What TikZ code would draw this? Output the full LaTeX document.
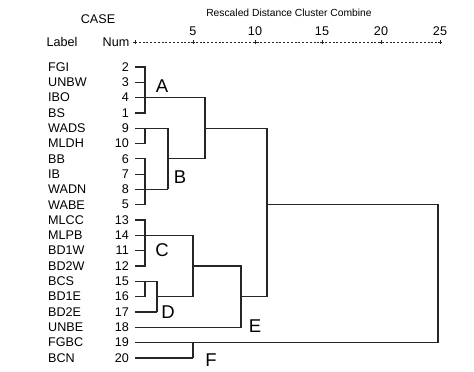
\documentclass[tikz,border=0pt]{standalone}
\usepackage{fontspec}
\setmainfont{Liberation Sans}
\begin{document}
\begin{tikzpicture}[x=1pt,y=-1pt,
	case/.style={anchor=west,inner sep=0pt,font=\fontsize{12.6}{14}\selectfont},
	num/.style={anchor=east,inner sep=0pt,font=\fontsize{12.6}{14}\selectfont},
	head/.style={inner sep=0pt,font=\fontsize{12.6}{14}\selectfont},
	group/.style={inner sep=0pt,font=\fontsize{18.5}{20}\selectfont},
	tree/.style={draw=black!85,line width=1.2pt},
	fat/.style={draw=black!85,line width=2pt}]
	\useasboundingbox (0,0) rectangle (474,372);
	
	% header
	\node[head] (case) at (98, 19) {CASE};
	\node[head] (label) at (62, 42) {Label};
	\node[head] (numh) at (116, 42) {Num};
	\node[inner sep=0pt,font=\fontsize{10.3}{12}\selectfont] (title) at (289, 13) {Rescaled Distance Cluster Combine};
	\coordinate (ax0) at (135, 42);
	\coordinate (ax25) at (440, 42);
	\draw[black!85, line width=0.7pt, dash pattern=on 2pt off 1.8pt] (ax0) -- (ax25);
	\draw[black!85, line width=0.9pt] (ax0) ++(-2,0) -- ++(4,0) (ax0) ++(0,-2) -- ++(0,4);
	\foreach \t/\x in {5/193, 10/255, 15/322, 20/381, 25/440} {
		\node[head] (tick-\t) at (\x, 31) {\t};
		\draw[black!85, line width=0.9pt] (\x-2, 42) -- (\x+2, 42) (\x, 40) -- (\x, 44);
	}
	
	% cases
	\foreach \i/\lab/\num in {1/FGI/2, 2/UNBW/3, 3/IBO/4, 4/BS/1, 5/WADS/9, 6/MLDH/10,
		7/BB/6, 8/IB/7, 9/WADN/8, 10/WABE/5, 11/MLCC/13, 12/MLPB/14, 13/BD1W/11,
		14/BD2W/12, 15/BCS/15, 16/BD1E/16, 17/BD2E/17, 18/UNBE/18, 19/FGBC/19, 20/BCN/20} {
		\node[case] (lab-\i) at (48, {67+(\i-1)*15.3}) {\lab};
		\node[num] (num-\i) at (129, {67+(\i-1)*15.3}) {\num};
		\coordinate (r-\i) at (135, {67+(\i-1)*15.3});
	}
	
	% merge levels
	\coordinate (xa) at (145, 0);
	\coordinate (xd) at (157, 0);
	\coordinate (xb) at (168, 0);
	\coordinate (xc) at (193, 0);
	\coordinate (xab) at (205, 0);
	\coordinate (xe) at (241, 0);
	\coordinate (xall) at (267, 0);
	\coordinate (xtop) at (438, 0);
	
	% A
	\draw[tree] (r-1) -- (r-1 -| xa) -- (r-4 -| xa) -- (r-4);
	\draw[tree] (r-2) -- (r-2 -| xa);
	\draw[tree] (r-3) -- (r-3 -| xab) -- (r-7 -| xab);
	% B
	\draw[tree] (r-5) -- (r-5 -| xb) -- (r-9 -| xb);
	\draw[tree] (r-5 -| xa) -- (r-6 -| xa) -- (r-6);
	\draw[tree] (r-7) -- (r-7 -| xa) -- (r-10 -| xa) -- (r-10);
	\draw[tree] (r-8) -- (r-8 -| xa);
	\draw[tree] (r-9) -- (r-9 -| xb);
	\draw[tree] (r-7 -| xb) -- (r-7 -| xab);
	\draw[tree] (r-5 -| xab) -- (r-5 -| xall);
	% C
	\draw[tree] (r-11) -- (r-11 -| xa) -- (r-14 -| xa) -- (r-14);
	\draw[tree] (r-12) -- (r-12 -| xc) -- (r-16 -| xc);
	\draw[tree] (r-13) -- (r-13 -| xa);
	% D
	\draw[tree] (r-15) -- (r-15 -| xd) -- (r-17 -| xd);
	\draw[tree] (r-15 -| xa) -- (r-16 -| xa) -- (r-16);
	\draw[fat] (r-17) -- (r-17 -| xd);
	\draw[tree] (r-16 -| xd) -- (r-16 -| xc);
	% E
	\draw[tree] (r-14 -| xc) -- (r-14 -| xe) -- (r-18 -| xe) -- (r-18);
	\draw[tree] (r-16 -| xe) -- (r-16 -| xall);
	\draw[tree] (r-5 -| xall) -- (r-16 -| xall);
	% top
	\draw[tree] (r-10 -| xall) -- (r-10 -| xtop) -- (r-19 -| xtop) -- (r-19);
	% F
	\draw[fat] (r-20) -- (r-20 -| xc);
	\draw[tree] (r-19 -| xc) -- (r-20 -| xc);
	
	% groups
	\node[group] (ga) at (162, 86) {A};
	\node[group] (gb) at (180, 177) {B};
	\node[group] (gc) at (162, 250) {C};
	\node[group] (gd) at (168, 312) {D};
	\node[group] (ge) at (255, 326) {E};
	\node[group] (gf) at (211, 360) {F};
\end{tikzpicture}
\end{document}
